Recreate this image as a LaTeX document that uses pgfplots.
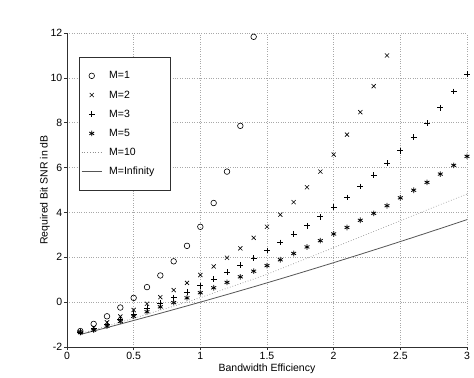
\documentclass[border=0pt]{standalone}
\usepackage{fontspec}
\setmainfont{Liberation Sans}
\usepackage{pgfplots}
\pgfplotsset{compat=1.18}
\definecolor{axgray}{HTML}{303030}
\definecolor{gridgray}{HTML}{A8A8A8}
\definecolor{lingray}{HTML}{555555}
\definecolor{dotgray}{HTML}{909090}
\begin{document}
\fontsize{10.5}{12.6}\selectfont
\begin{tikzpicture}
\begin{axis}[
  scale only axis,
  width=400pt, height=314pt,
  xmin=0, xmax=3, ymin=-2, ymax=12,
  xtick={0,0.5,1,1.5,2,2.5,3},
  ytick={-2,0,2,4,6,8,10,12},
  /pgf/number format/assume math mode=true,
  axis x line*=bottom, axis y line*=left,
  axis line style={-, axgray, line width=0.6pt},
  tick align=outside, major tick length=3pt,
  tick style={axgray, line width=0.5pt},
  xticklabel style={inner sep=1pt, yshift=-1pt},
  yticklabel style={inner sep=1.5pt},
  grid=major,
  major grid style={gridgray, dotted, line width=0.5pt},
  xlabel={Bandwidth Efficiency},
  ylabel={Required Bit SNR in dB},
  xlabel style={at={(axis description cs:0.5,-0.070)}, anchor=center},
  ylabel style={at={(axis description cs:-0.055,0.5)}, anchor=center},
  legend image code/.code={\draw[mark repeat=2,mark phase=2,#1] plot coordinates {(0pt,0pt) (10pt,0pt) (20pt,0pt)};},
  legend style={at={(axis description cs:0.03,0.9236)}, anchor=north west,
    draw=axgray, line width=0.7pt, inner xsep=2pt, inner ysep=12.5pt,
    row sep=7.2pt, column sep=6pt,
    nodes={inner sep=1pt, text height=8pt, text depth=2pt, line width=0.5pt}},
  legend cell align=left,
]
% M=1
\addplot[only marks, mark=o, mark size=2.8pt, black, line width=0.6pt] coordinates {
(0.1,-1.29) (0.2,-0.97) (0.3,-0.63) (0.4,-0.24) (0.5,0.19) (0.6,0.67) (0.7,1.19)
(0.8,1.82) (0.9,2.51) (1.0,3.36) (1.1,4.42) (1.2,5.82) (1.3,7.86) (1.4,11.83)};
\addlegendentry{\makebox[58pt][l]{M=1}}
% M=2
\addplot[only marks, mark=x, mark size=2.9pt, black, line width=0.6pt] coordinates {
(0.1,-1.33) (0.2,-1.13) (0.3,-0.90) (0.4,-0.64) (0.5,-0.35) (0.6,-0.07) (0.7,0.22)
(0.8,0.54) (0.9,0.86) (1.0,1.21) (1.1,1.59) (1.2,1.98) (1.3,2.40) (1.4,2.87) (1.5,3.36)
(1.6,3.90) (1.7,4.46) (1.8,5.12) (1.9,5.82) (2.0,6.58) (2.1,7.47) (2.2,8.47) (2.3,9.63) (2.4,11.00)};
\addlegendentry{\makebox[58pt][l]{M=2}}
% M=3
\addplot[only marks, mark=+, mark size=2.9pt, black, line width=0.6pt] coordinates {
(0.1,-1.34) (0.2,-1.18) (0.3,-0.98) (0.4,-0.77) (0.5,-0.52) (0.6,-0.27) (0.7,-0.03)
(0.8,0.20) (0.9,0.46) (1.0,0.73) (1.1,1.03) (1.2,1.33) (1.3,1.64) (1.4,1.96) (1.5,2.30)
(1.6,2.66) (1.7,3.04) (1.8,3.41) (1.9,3.81) (2.0,4.23) (2.1,4.67) (2.2,5.16) (2.3,5.66)
(2.4,6.19) (2.5,6.75) (2.6,7.35) (2.7,7.98) (2.8,8.67) (2.9,9.39) (3.0,10.18)};
\addlegendentry{\makebox[58pt][l]{M=3}}
% M=5
\addplot[only marks, mark=asterisk, mark size=2.8pt, black, line width=0.8pt] coordinates {
(0.1,-1.36) (0.2,-1.25) (0.3,-1.07) (0.4,-0.86) (0.5,-0.63) (0.6,-0.43) (0.7,-0.21)
(0.8,-0.02) (0.9,0.19) (1.0,0.42) (1.1,0.64) (1.2,0.88) (1.3,1.13) (1.4,1.38) (1.5,1.63)
(1.6,1.89) (1.7,2.17) (1.8,2.46) (1.9,2.74) (2.0,3.04) (2.1,3.33) (2.2,3.65) (2.3,3.96)
(2.4,4.30) (2.5,4.65) (2.6,4.99) (2.7,5.34) (2.8,5.71) (2.9,6.10) (3.0,6.50)};
\addlegendentry{\makebox[58pt][l]{M=5}}
% M=10
\addplot[no marks, dotgray, dotted, line width=0.7pt] coordinates {
(0.1,-1.40) (0.2,-1.24) (0.3,-1.07) (0.4,-0.89) (0.5,-0.72) (0.6,-0.54) (0.7,-0.36)
(0.8,-0.18) (0.9,0.01) (1.0,0.20) (1.2,0.62) (1.4,1.03) (1.5,1.24) (1.6,1.48) (1.8,1.95)
(2.0,2.43) (2.2,2.91) (2.4,3.39) (2.6,3.87) (2.8,4.35) (3.0,4.82)};
\addlegendentry{\makebox[58pt][l]{M=10}}
% M=Infinity
\addplot[no marks, lingray, solid, line width=0.8pt] coordinates {
(0.1,-1.441) (0.2,-1.287) (0.3,-1.134) (0.4,-0.976) (0.5,-0.817) (0.6,-0.657) (0.7,-0.496)
(0.8,-0.332) (0.9,-0.167) (1.0,0.0) (1.2,0.339) (1.4,0.684) (1.6,1.037) (1.8,1.396)
(2.0,1.761) (2.2,2.133) (2.4,2.510) (2.6,2.894) (2.8,3.284) (3.0,3.680)};
\addlegendentry{\makebox[58pt][l]{M=Infinity}}
\end{axis}
\path (-67pt,-28pt) (407pt,347pt);
\end{tikzpicture}
\end{document}
